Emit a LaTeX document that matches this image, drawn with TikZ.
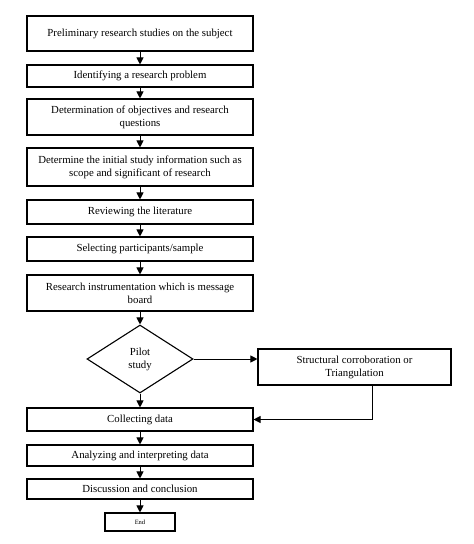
\documentclass[tikz,border=0pt]{standalone}
\usepackage{fontspec}
\setmainfont{Liberation Serif}
\usetikzlibrary{arrows.meta,shapes.geometric}

\begin{document}
\begin{tikzpicture}[x=1pt,y=-1pt,
    stage/.style={draw,line width=1.1pt,minimum width=226pt,align=center,
                  inner sep=1pt,font=\fontsize{10.8}{13}\selectfont},
    choice/.style={draw,diamond,line width=1.1pt,minimum width=106pt,minimum height=68pt,
                   inner sep=0pt,align=center,font=\fontsize{10.8}{13}\selectfont},
    flow/.style={line width=1pt,-{Triangle[length=7pt,width=7pt]}}]

  \useasboundingbox (0,0) rectangle (474,544);

  % --- the main column of stages ---
  \node[stage,minimum height=35pt] (prelim)   at (140, 33.5) {Preliminary research studies on the subject};
  \node[stage,minimum height=22pt] (problem)  at (140, 76)   {Identifying a research problem};
  \node[stage,minimum height=36pt] (objective) at (140,117)  {Determination of objectives and research\\questions};
  \node[stage,minimum height=38pt] (scope)    at (140,167)   {Determine the initial study information such as\\scope and significant of research};
  \node[stage,minimum height=24pt] (review)   at (140,212)   {Reviewing the literature};
  \node[stage,minimum height=24pt] (sample)   at (140,249)   {Selecting participants/sample};
  \node[stage,minimum height=36pt] (instrument) at (140,293) {Research instrumentation which is message\\board};

  % --- the pilot study and its side branch ---
  \node[choice] (pilot) at (140,359) {Pilot\\study};
  \node[stage,minimum width=193pt,minimum height=36pt] (triang) at (354.5,367)
       {Structural corroboration or\\Triangulation};

  % --- the lower stages ---
  \node[stage,minimum height=23pt] (collect)  at (140,419.5) {Collecting data};
  \node[stage,minimum height=21pt] (analyze)  at (140,455.5) {Analyzing and interpreting data};
  \node[stage,minimum height=20pt] (discuss)  at (140,489)   {Discussion and conclusion};
  \node[stage,minimum width=70pt,minimum height=18pt,font=\fontsize{6.5}{7}\selectfont] (finish) at (140,522) {End};

  % --- arrows down the column ---
  \draw[flow] (prelim)     -- (problem);
  \draw[flow] (problem)    -- (objective);
  \draw[flow] (objective)  -- (scope);
  \draw[flow] (scope)      -- (review);
  \draw[flow] (review)     -- (sample);
  \draw[flow] (sample)     -- (instrument);
  \draw[flow] (instrument) -- (pilot);
  \draw[flow] (pilot)      -- (collect);
  \draw[flow] (collect)    -- (analyze);
  \draw[flow] (analyze)    -- (discuss);
  \draw[flow] (discuss)    -- (finish);

  % --- the side branch and its way back ---
  \draw[flow] (pilot.east) -- (triang.west |- pilot.east);
  \draw[flow] ([xshift=17.5pt]triang.south) |- (collect.east);
\end{tikzpicture}
\end{document}
